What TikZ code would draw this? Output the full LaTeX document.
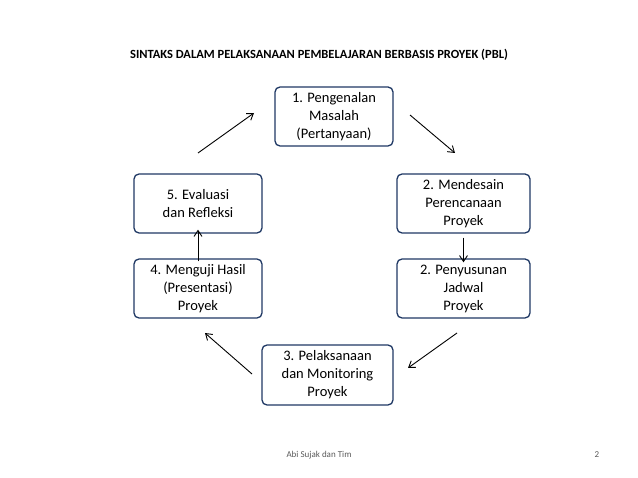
\documentclass[tikz,border=0pt]{standalone}
\usepackage{fontspec}
\setmainfont{Carlito}
\usetikzlibrary{arrows.meta}
\definecolor{navy}{HTML}{1F3864}
\begin{document}
\begin{tikzpicture}[x=1pt,y=-1pt,
  box/.style={draw=navy,line width=1.3pt,rounded corners=5pt,align=center,font=\fontsize{14.5}{18}\selectfont,inner sep=0pt},
  arr/.style={-{Straight Barb[length=6pt,width=8pt]},line width=0.9pt}]
\useasboundingbox (0,0) rectangle (638,478);
\node[font=\bfseries\fontsize{12.5}{15}\selectfont] (title) at (319,55) {SINTAKS DALAM PELAKSANAAN PEMBELAJARAN BERBASIS PROYEK (PBL)};
\node[box,minimum width=118pt,minimum height=59pt] (b1) at (334,116.5) {1. Pengenalan\\Masalah\\(Pertanyaan)};
\node[box,minimum width=133pt,minimum height=59pt] (b2) at (463.5,203.5) {2. Mendesain\\Perencanaan\\Proyek};
\node[box,minimum width=133pt,minimum height=59pt] (b3) at (463.5,288.5) {2. Penyusunan\\Jadwal\\Proyek};
\node[box,minimum width=131pt,minimum height=60pt] (b4) at (327.5,375) {3. Pelaksanaan\\dan Monitoring\\Proyek};
\node[box,minimum width=128pt,minimum height=59pt] (b5) at (198,288.5) {4. Menguji Hasil\\(Presentasi)\\Proyek};
\node[box,minimum width=128pt,minimum height=59pt] (b6) at (198,203.5) {5. Evaluasi\\dan Refleksi};
\coordinate (a1s) at (198,153); \coordinate (a1e) at (254,113);
\coordinate (a2s) at (410,115); \coordinate (a2e) at (455,153);
\coordinate (a4s) at (457,333); \coordinate (a4e) at (408,368);
\coordinate (a5s) at (252,374); \coordinate (a5e) at (205,333);
\draw[arr] (a1s) -- (a1e);
\draw[arr] (a2s) -- (a2e);
\draw[arr] (b2.south) ++(0,4) -- ([yshift=-4pt]b3.north);
\draw[arr] (a4s) -- (a4e);
\draw[arr] (a5s) -- (a5e);
\draw[arr] ([yshift=-3pt]b5.north) -- ([yshift=4pt]b6.south);
\node[font=\fontsize{9}{11}\selectfont,text=gray!70!black] (foot) at (319,455) {Abi Sujak dan Tim};
\node[font=\fontsize{9}{11}\selectfont,text=gray!70!black] (page) at (597,455) {2};
\end{tikzpicture}
\end{document}
